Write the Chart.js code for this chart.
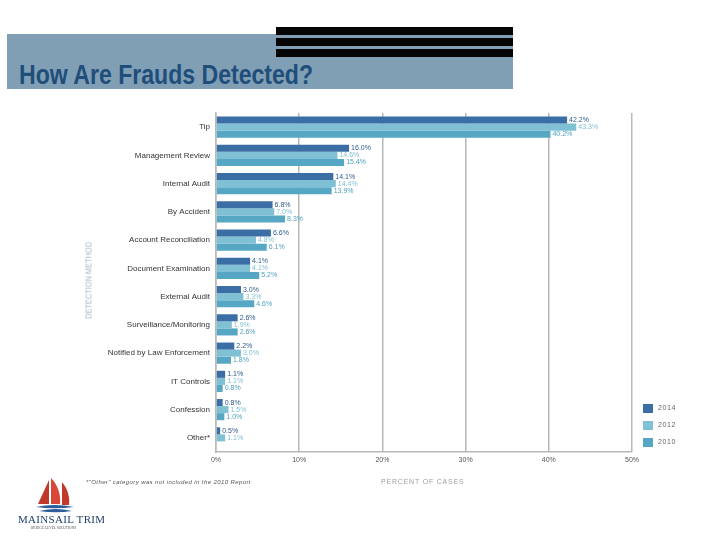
<!DOCTYPE html>
<html>
<head>
<meta charset="utf-8">
<script src="https://cdn.jsdelivr.net/npm/chart.js@4"></script>
<style>
  body { margin: 0; background: #fff; width: 720px; height: 540px; position: relative; overflow: hidden; font-family: "Liberation Sans", Arial, sans-serif; }
  #band { position: absolute; left: 7px; top: 34px; width: 506px; height: 55px; background: #809fb5; }
  .stripe { position: absolute; left: 276px; width: 237px; height: 8px; background: #050505; }
  #title { position: absolute; left: 19px; top: 60px; font-size: 27px; font-weight: bold; color: #1f4e7a; white-space: nowrap; transform-origin: left top; }
  #chartBox { position: absolute; left: 0; top: 0; width: 720px; height: 540px; }
  #ytitle { position: absolute; left: 44px; top: 279px; width: 88px; text-align: center; font-size: 9.5px; color: #a3b9c9; transform: rotate(-90deg) scaleX(0.78); white-space: nowrap; }
  #xtitle { position: absolute; left: 381px; top: 478px; font-size: 7px; color: #9aa0a6; letter-spacing: 0.8px; }
  #note { position: absolute; left: 86px; top: 479px; font-size: 6px; font-style: italic; color: #555; white-space: nowrap; letter-spacing: 0.4px; }
  .leg { position: absolute; left: 643px; font-size: 7px; color: #666; letter-spacing: 0.6px; }
  .leg span { display: inline-block; width: 10px; height: 9px; vertical-align: middle; margin-right: 5px; }
  #logo { position: absolute; left: 14px; top: 478px; }
</style>
</head>
<body>
<div id="band"></div>
<div class="stripe" style="top:27px"></div>
<div class="stripe" style="top:38px"></div>
<div class="stripe" style="top:49px"></div>
<div id="title">How Are Frauds Detected?</div>

<div id="chartBox"><canvas id="fraudChart" width="720" height="540"></canvas></div>

<div id="ytitle">DETECTION METHOD</div>
<div id="xtitle">PERCENT OF CASES</div>
<div id="note">*"Other" category was not included in the 2010 Report</div>
<div class="leg" style="top:404px"><span style="background:#3a6ea5"></span>2014</div>
<div class="leg" style="top:421px"><span style="background:#7fc0d4"></span>2012</div>
<div class="leg" style="top:438px"><span style="background:#56a7c4"></span>2010</div>

<svg id="logo" width="90" height="58" viewBox="0 0 90 58">
  <path d="M35 2 L35 26 L24 26 Z" fill="#c0392b"/>
  <path d="M37 0 C44 7 47 17 46 26 L37 26 Z" fill="#d9463a"/>
  <path d="M48 4 C54 11 56 20 55 27 L48 27 Z" fill="#c0392b"/>
  <path d="M22 29 Q40 25 60 29 Q40 31.5 22 29 Z" fill="#2a5d9a"/>
  <path d="M25 33 Q42 29 58 33 Q42 35.5 25 33 Z" fill="#2a5d9a"/>
  <text x="4" y="45" font-family="Liberation Serif, serif" font-size="11" fill="#1f3f6e" letter-spacing="0.3">MAINSAIL TRIM</text>
  <text x="17" y="51" font-family="Liberation Serif, serif" font-size="3.5" fill="#555">BRIDGE LEVEL SOLUTIONS</text>
</svg>

<script>
// Data
const categories = [
  "Tip",
  "Management Review",
  "Internal Audit",
  "By Accident",
  "Account Reconciliation",
  "Document Examination",
  "External Audit",
  "Surveillance/Monitoring",
  "Notified by Law Enforcement",
  "IT Controls",
  "Confession",
  "Other*",
];
const years = ["2014", "2012", "2010"];
const values2014 = [42.2, 16.0, 14.1, 6.8, 6.6, 4.1, 3.0, 2.6, 2.2, 1.1, 0.8, 0.5];
const values2012 = [43.3, 14.6, 14.4, 7.0, 4.8, 4.1, 3.3, 1.9, 3.0, 1.1, 1.5, 1.1];
const values2010 = [40.2, 15.4, 13.9, 8.3, 6.1, 5.2, 4.6, 2.6, 1.8, 0.8, 1.0, null];
const xTicks = [0, 10, 20, 30, 40, 50];

const barColors = ["#3a6ea5", "#7fc0d4", "#56a7c4"];
const labelColors = ["#2b5a8c", "#7fbfd3", "#4e9fbf"];

// Fit the title width to the reference
const titleEl = document.getElementById("title");
titleEl.style.transform = "scaleX(" + (294 / titleEl.offsetWidth) + ")";

// Value labels at the end of each bar
const barLabels = {
  id: "barLabels",
  afterDatasetsDraw(chart) {
    const ctx = chart.ctx;
    ctx.save();
    ctx.font = "7px 'Liberation Sans', Arial, sans-serif";
    ctx.textBaseline = "middle";
    chart.data.datasets.forEach((ds, i) => {
      const meta = chart.getDatasetMeta(i);
      meta.data.forEach((bar, j) => {
        const v = ds.data[j];
        if (v === null) return;
        ctx.fillStyle = labelColors[i];
        ctx.fillText(v.toFixed(1) + "%", bar.x + 2, bar.y);
      });
    });
    ctx.restore();
  },
};

const ctx = document.getElementById("fraudChart").getContext("2d");
new Chart(ctx, {
  type: "bar",
  data: {
    labels: categories,
    datasets: [
      { label: years[0], data: values2014, backgroundColor: barColors[0] },
      { label: years[1], data: values2012, backgroundColor: barColors[1] },
      { label: years[2], data: values2010, backgroundColor: barColors[2] },
    ],
  },
  options: {
    indexAxis: "y",
    responsive: false,
    animation: false,
    layout: { padding: { left: 0, right: 88, top: 113, bottom: 0 } },
    datasets: {
      bar: { categoryPercentage: 0.75, barPercentage: 1.0 },
    },
    plugins: {
      legend: { display: false },
      tooltip: { enabled: false },
    },
    scales: {
      x: {
        min: 0,
        max: 50,
        afterBuildTicks: (scale) => {
          scale.ticks = xTicks.map((v) => ({ value: v }));
        },
        afterFit: (scale) => {
          scale.height = 88;
        },
        grid: { color: "#b8b8b8", lineWidth: 1.5, drawTicks: false },
        border: { color: "#b8b8b8", width: 1.5 },
        ticks: {
          padding: 4,
          color: "#555",
          font: { size: 7, family: "'Liberation Sans', Arial, sans-serif" },
          callback: function (value) {
            return value + "%";
          },
        },
      },
      y: {
        afterFit: (scale) => {
          scale.width = 216;
        },
        grid: { display: false, drawTicks: false },
        border: { color: "#b8b8b8", width: 1.5 },
        ticks: {
          padding: 6,
          color: "#333",
          font: { size: 8, family: "'Liberation Sans', Arial, sans-serif" },
        },
      },
    },
  },
  plugins: [barLabels],
});
</script>
</body>
</html>
